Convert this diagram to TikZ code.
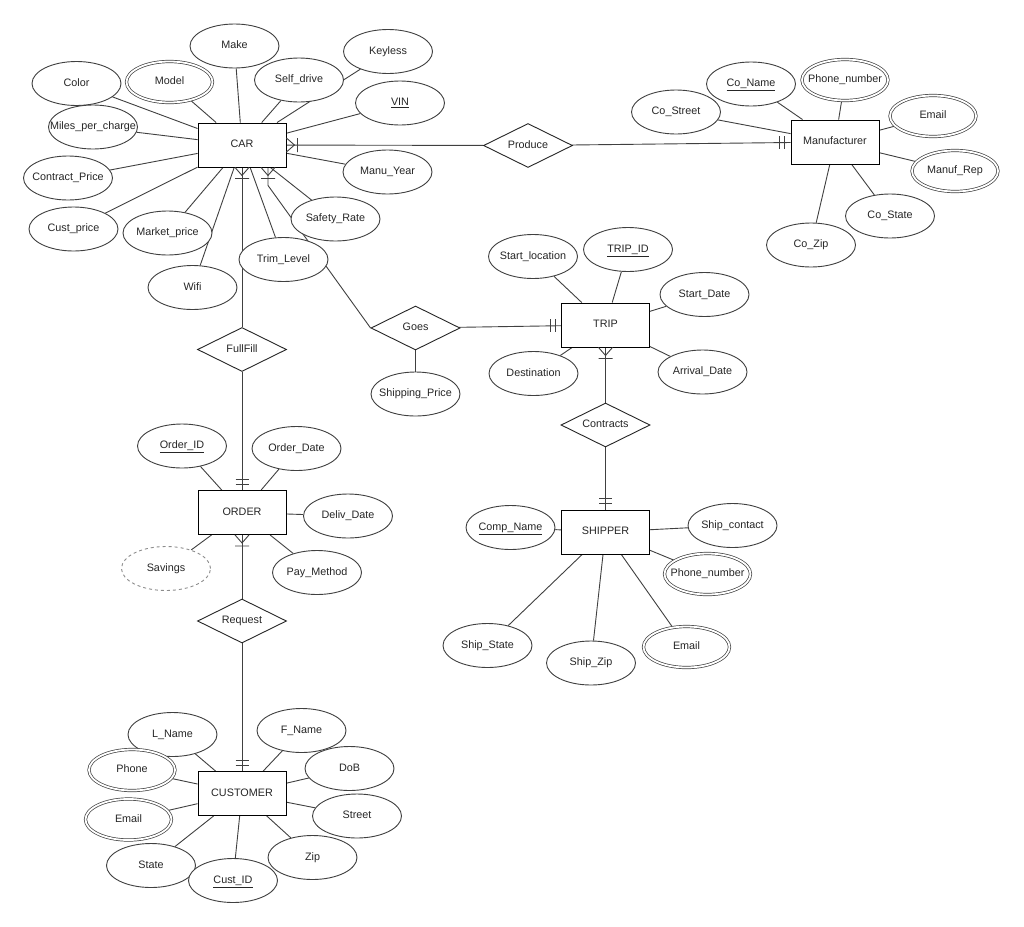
\documentclass[tikz,border=0pt]{standalone}
\usepackage{fontspec}
\setmainfont{Liberation Sans}
\usetikzlibrary{shapes.geometric,calc}
\pgfdeclarelayer{background}
\pgfsetlayers{background,main}
\newcommand{\zb}[1]{\makebox[0pt][c]{#1}}
\begin{document}
\begin{tikzpicture}[x=1pt,y=-1pt,
  every node/.style={font=\fontsize{10.8}{12}\selectfont, text=black!85, inner sep=0pt, text height=7.8pt, text depth=2.2pt},
  ent/.style={rectangle, draw=black, line width=0.9pt, fill=white, minimum width=88pt, minimum height=44pt},
  attr/.style={ellipse, draw=black!75, line width=0.9pt, fill=white, minimum width=89pt, minimum height=44pt},
  mattr/.style={ellipse, draw=black!75, line width=0.7pt, double=white, double distance=1.8pt, fill=white, minimum width=86pt, minimum height=41pt},
  dattr/.style={attr, draw=black!45, dashed},
  rel/.style={diamond, draw=black!85, line width=0.9pt, fill=white, minimum width=89pt, minimum height=44pt, aspect=2},
  conn/.style={draw=black!75, line width=0.9pt},
  mone/.pic={\draw[conn] (6,-6.5) -- (6,6.5) (11,-6.5) -- (11,6.5);},
  omany/.pic={\draw[conn] (0,-7) -- (8,0) -- (0,7) (11,-7) -- (11,7);}
]
\useasboundingbox (0,0) rectangle (1024,926);
\begin{pgfonlayer}{background}
\fill[white] (0,0) rectangle (1024,926);
\end{pgfonlayer}

% ---------- CAR ----------
\node[ent] (car) at (242,145) {\zb{CAR}};
\node[attr] (make) at (234.5,46) {\zb{Make}};
\node[attr] (color) at (76.5,83.5) {\zb{Color}};
\node[mattr] (model) at (169.5,82) {\zb{Model}};
\node[attr] (selfdrive) at (299,80) {\zb{Self\_drive}};
\node[attr] (keyless) at (388,51.5) {\zb{Keyless}};
\node[attr] (vin) at (400,103) {\zb{\underline{VIN}}};
\node[attr] (miles) at (93,127) {\zb{Miles\_per\_charge}};
\node[attr] (contract) at (68,178) {\zb{Contract\_Price}};
\node[attr] (manuyear) at (387.5,172) {\zb{Manu\_Year}};
\node[attr] (custprice) at (73.5,229) {\zb{Cust\_price}};
\node[attr] (market) at (167.5,233) {\zb{Market\_price}};
\node[attr] (safety) at (335.5,219) {\zb{Safety\_Rate}};
\node[attr] (trim) at (283.5,259.5) {\zb{Trim\_Level}};
\node[attr] (wifi) at (192.5,287.5) {\zb{Wifi}};

% ---------- Manufacturer ----------
\node[rel] (produce) at (528,145.5) {\zb{Produce}};
\node[ent] (mfr) at (835,142) {\zb{Manufacturer}};
\node[attr] (coname) at (751,84) {\zb{\underline{Co\_Name}}};
\node[mattr] (mphone) at (845,80) {\zb{Phone\_number}};
\node[attr] (costreet) at (676,112) {\zb{Co\_Street}};
\node[mattr] (memail) at (933,116) {\zb{Email}};
\node[mattr] (manufrep) at (955,171) {\zb{Manuf\_Rep}};
\node[attr] (costate) at (890,216) {\zb{Co\_State}};
\node[attr] (cozip) at (811,245) {\zb{Co\_Zip}};

% ---------- TRIP ----------
\node[rel] (goes) at (415.5,328) {\zb{Goes}};
\node[ent] (trip) at (605.5,325) {\zb{TRIP}};
\node[attr] (startloc) at (533,256.5) {\zb{Start\_location}};
\node[attr] (tripid) at (628,249.5) {\zb{\underline{TRIP\_ID}}};
\node[attr] (startdate) at (704.5,294.5) {\zb{Start\_Date}};
\node[attr] (dest) at (533.5,373.5) {\zb{Destination}};
\node[attr] (arrdate) at (702.5,372) {\zb{Arrival\_Date}};
\node[attr] (shipprice) at (415.5,394) {\zb{Shipping\_Price}};
\node[rel] (contracts) at (605.5,425) {\zb{Contracts}};

% ---------- SHIPPER ----------
\node[ent] (shipper) at (605.5,532) {\zb{SHIPPER}};
\node[attr] (compname) at (510.5,527.5) {\zb{\underline{Comp\_Name}}};
\node[attr] (shipcontact) at (732.5,525.5) {\zb{Ship\_contact}};
\node[mattr] (sphone) at (707.5,574) {\zb{Phone\_number}};
\node[attr] (shipstate) at (487.5,645.5) {\zb{Ship\_State}};
\node[attr] (shipzip) at (591,663) {\zb{Ship\_Zip}};
\node[mattr] (semail) at (686.5,647) {\zb{Email}};

% ---------- ORDER ----------
\node[rel] (fullfill) at (242,349.5) {\zb{FullFill}};
\node[ent] (order) at (242,512.5) {\zb{ORDER}};
\node[attr] (orderid) at (182,446) {\zb{\underline{Order\_ID}}};
\node[attr] (orderdate) at (296.5,448.5) {\zb{Order\_Date}};
\node[attr] (delivdate) at (348,516) {\zb{Deliv\_Date}};
\node[dattr] (savings) at (166,568.5) {\zb{Savings}};
\node[attr] (paymethod) at (317,572.5) {\zb{Pay\_Method}};
\node[rel] (request) at (242,621) {\zb{Request}};

% ---------- CUSTOMER ----------
\node[ent] (customer) at (242,793.5) {\zb{CUSTOMER}};
\node[attr] (lname) at (172.5,734.5) {\zb{L\_Name}};
\node[attr] (fname) at (301.5,730.5) {\zb{F\_Name}};
\node[mattr] (cphone) at (132,770) {\zb{Phone}};
\node[attr] (dob) at (349.5,768.5) {\zb{DoB}};
\node[mattr] (cemail) at (128.5,819.5) {\zb{Email}};
\node[attr] (street) at (357,816) {\zb{Street}};
\node[attr] (state) at (151,865.5) {\zb{State}};
\node[attr] (custid) at (233,880.5) {\zb{\underline{Cust\_ID}}};
\node[attr] (zip) at (312.5,857.5) {\zb{Zip}};

\coordinate (gs) at ($(car.south)+(26,0)$);

\begin{pgfonlayer}{background}
\foreach \a in {make,color,model,selfdrive,keyless,vin,miles,contract,manuyear,custprice,market,safety,trim,wifi}
  \draw[conn] (\a) -- (car);
\foreach \a in {coname,mphone,costreet,memail,manufrep,costate,cozip}
  \draw[conn] (\a) -- (mfr);
\foreach \a in {startloc,tripid,startdate,dest,arrdate}
  \draw[conn] (\a) -- (trip);
\foreach \a in {compname,shipcontact,sphone,shipstate,shipzip,semail}
  \draw[conn] (\a) -- (shipper);
\foreach \a in {orderid,orderdate,delivdate,savings,paymethod}
  \draw[conn] (\a) -- (order);
\foreach \a in {lname,fname,cphone,dob,cemail,street,state,custid,zip}
  \draw[conn] (\a) -- (customer);
\draw[conn] (car) -- (produce);
\draw[conn] (produce) -- (mfr);
\draw[conn] (car) -- (fullfill);
\draw[conn] (fullfill) -- (order);
\draw[conn] (order) -- (request);
\draw[conn] (request) -- (customer);
\draw[conn] (gs) -- ++(0,18) -- (goes.west);
\draw[conn] (goes) -- (trip);
\draw[conn] (goes) -- (shipprice);
\draw[conn] (trip) -- (contracts);
\draw[conn] (contracts) -- (shipper);
\end{pgfonlayer}

% cardinality marks
\pic[rotate=0] at (car.east) {omany};
\pic[rotate=-90] at (car.south) {omany};
\pic[rotate=-90] at (gs) {omany};
\pic[rotate=180] at (mfr.west) {mone};
\pic[rotate=180] at (trip.west) {mone};
\pic[rotate=-90] at (trip.south) {omany};
\pic[rotate=90] at (shipper.north) {mone};
\pic[rotate=90] at (order.north) {mone};
\pic[rotate=-90] at (order.south) {omany};
\pic[rotate=90] at (customer.north) {mone};
\end{tikzpicture}
\end{document}
